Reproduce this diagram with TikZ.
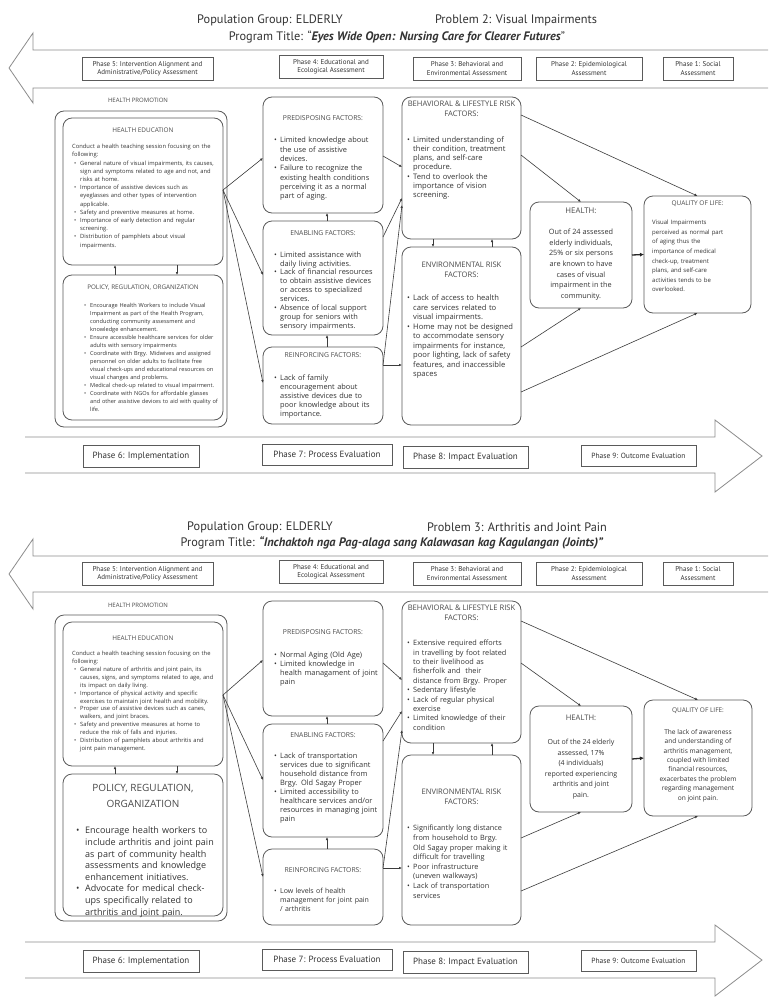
\documentclass[tikz,border=0pt]{standalone}
\usepackage{fontspec}
\setmainfont{Open Sans}
\newfontfamily\PhaseFont{PT Sans}
\usetikzlibrary{positioning,arrows.meta}

\definecolor{LineGray}{HTML}{3C3C3C}
\definecolor{BoxGray}{HTML}{5A5A5A}
\definecolor{ArrowGray}{HTML}{8C8C8C}
\definecolor{TextGray}{HTML}{333333}
\definecolor{HeadGray}{HTML}{4A4A4A}

% bullet item: bullet, then a top-aligned block of explicitly broken lines
\newcommand{\Bul}[2][8pt]{\par\noindent\makebox[#1][l]{\hspace{2pt}\textbullet}%
  \parbox[t]{\dimexpr\hsize-#1\relax}{\raggedright #2\par\xdef\BulDepth{\the\prevdepth}}%
  \par\prevdepth=\BulDepth\relax}

\begin{document}
\begin{tikzpicture}[x=1pt,y=-1pt]
  \tikzset{BoxStyle/.style = {
    shape         = rectangle,
    rounded corners = 9pt,
    draw          = BoxGray,
    line width    = 0.8pt,
    anchor        = north west,
    inner sep     = 0pt,
    outer sep     = 0pt
    }
  }
  \tikzset{PhaseStyle/.style = {
    shape         = rectangle,
    draw          = BoxGray,
    line width    = 0.7pt,
    fill          = white,
    text          = TextGray,
    align         = center,
    inner sep     = 1pt,
    font          = \PhaseFont\fontsize{7}{8.4}\selectfont
    }
  }
  \tikzset{EvalStyle/.style = {
    PhaseStyle,
    font          = \PhaseFont\fontsize{9}{10}\selectfont
    }
  }
  \tikzset{TitleStyle/.style = {
    text          = black!80,
    inner sep     = 0pt,
    font          = \PhaseFont\fontsize{12.3}{14}\selectfont
    }
  }
  \tikzset{HeadStyle/.style = {
    anchor        = north,
    align         = center,
    inner sep     = 0pt,
    text          = HeadGray
    }
  }
  \tikzset{ListStyle/.style = {
    anchor        = north west,
    align         = left,
    inner sep     = 0pt,
    text          = TextGray,
    text width    = #1
    },
    ListStyle/.default = 110pt
  }
  \tikzset{EdgeStyle/.style = {
    draw          = LineGray,
    line width    = 0.6pt,
    -{Latex[length=3pt,width=2.6pt]}
    }
  }
  \tikzset{ThickEdge/.style = {
    draw          = black!85,
    line width    = 1.3pt,
    -{Latex[length=4pt,width=4pt]}
    }
  }
  \tikzset{BigArrow/.style = {
    draw          = ArrowGray,
    line width    = 0.8pt,
    line join     = miter
    }
  }

  \fill[white] (0,0) rectangle (768,1006);
  \useasboundingbox (0,0) rectangle (768,1006);

  % ================= Problem 2 =================
  \node[TitleStyle] (PopA) at (270,20) {Population Group: ELDERLY};
  \node[TitleStyle] (ProbA) at (516,20) {Problem 2: Visual Impairments};
  \node[TitleStyle] (ProgA) at (397,37) {Program Title: “\textbf{\textit{Eyes Wide Open: Nursing Care for Clearer Futures}}”};

  \draw[BigArrow] (768,50) -- (33,50) -- (33,33) -- (9,68) -- (33,103) -- (33,88) -- (768,88);
  \draw[BigArrow] (25,437) -- (715,437) -- (715,420) -- (762,456) -- (715,492) -- (715,473) -- (25,473);

  \node[PhaseStyle, minimum width=131pt, minimum height=23pt] (P5a) at (147.5,68.5) {Phase 5: Intervention Alignment and\\Administrative/Policy Assessment};
  \node[PhaseStyle, minimum width=104pt, minimum height=23pt] (P4a) at (331,66.5) {Phase 4: Educational and\\Ecological Assessment};
  \node[PhaseStyle, minimum width=108pt, minimum height=23pt] (P3a) at (467,68.5) {Phase 3: Behavioral and\\Environmental Assessment};
  \node[PhaseStyle, minimum width=106pt, minimum height=23pt] (P2a) at (589,68.5) {Phase 2: Epidemiological\\Assessment};
  \node[PhaseStyle, minimum width=70pt, minimum height=23pt] (P1a) at (698,68.5) {Phase 1: Social\\Assessment};

  \node[EvalStyle, minimum width=116pt, minimum height=22pt] (P6a) at (141,456) {Phase 6: Implementation};
  \node[EvalStyle, minimum width=130pt, minimum height=21pt] (P7a) at (327,454.5) {Phase 7: Process Evaluation};
  \node[EvalStyle, minimum width=125pt, minimum height=22pt] (P8a) at (465.5,457) {Phase 8: Impact Evaluation};
  \node[EvalStyle, minimum width=115pt, minimum height=21pt, font=\PhaseFont\fontsize{7.5}{8}\selectfont] (P9a) at (638.5,455.5) {Phase 9: Outcome Evaluation};

  % boxes
  \node[HeadStyle, font=\fontsize{6}{7}\selectfont] (HPlabA) at (138,98) {HEALTH PROMOTION};
  \node[BoxStyle, minimum width=172pt, minimum height=316pt] (HPa) at (55,111) {};
  \node[BoxStyle, minimum width=160pt, minimum height=147pt] (HEa) at (63,118) {};
  \node[BoxStyle, minimum width=160pt, minimum height=145pt] (PolA) at (63,275) {};
  \node[BoxStyle, minimum width=120pt, minimum height=116pt] (PredA) at (263,97) {};
  \node[BoxStyle, minimum width=120pt, minimum height=114pt] (EnabA) at (263,221) {};
  \node[BoxStyle, minimum width=120pt, minimum height=77pt] (ReinA) at (263,347) {};
  \node[BoxStyle, minimum width=119pt, minimum height=142pt] (BehA) at (402,97) {};
  \node[BoxStyle, minimum width=119pt, minimum height=178pt] (EnvA) at (402,247) {};
  \node[BoxStyle, minimum width=102pt, minimum height=106pt] (HealthA) at (530,202) {};
  \node[BoxStyle, minimum width=107pt, minimum height=117pt] (QolA) at (644,196) {};

  % texts
  \node[HeadStyle, font=\fontsize{6.4}{7}\selectfont, below=10pt of HEa.north] (HEaHead) {HEALTH EDUCATION};
  \node[ListStyle=150pt, font=\fontsize{5.8}{8.2}\selectfont, below right=26pt and 9pt of HEa.north west] (HEaList) {%
    Conduct a health teaching session focusing on the\newline following:
    \Bul{General nature of visual impairments, its causes,\\ sign and symptoms related to age and not, and\\ risks at home.}
    \Bul{Importance of assistive devices such as\\ eyeglasses and other types of intervention\\ applicable.}
    \Bul{Safety and preventive measures at home.}
    \Bul{Importance of early detection and regular\\ screening.}
    \Bul{Distribution of pamphlets about visual\\ impairments.}};

  \node[HeadStyle, font=\fontsize{6.3}{7}\selectfont, below=10pt of PolA.north] (PolAHead) {POLICY, REGULATION, ORGANIZATION};
  \node[ListStyle=140pt, font=\fontsize{5.6}{8}\selectfont, below right=24pt and 19pt of PolA.north west] (PolAList) {%
    \Bul{Encourage Health Workers to include Visual\\ Impairment as part of the Health Program,\\ conducting community assessment and\\ knowledge enhancement.}
    \Bul{Ensure accessible healthcare services for older\\ adults with sensory impairments}
    \Bul{Coordinate with Brgy. Midwives and assigned\\ personnel on older adults to facilitate free\\ visual check-ups and educational resources on\\ visual changes and problems.}
    \Bul{Medical check-up related to visual impairment.}
    \Bul{Coordinate with NGOs for affordable glasses\\ and other assistive devices to aid with quality of\\ life.}};

  \node[HeadStyle, font=\fontsize{6.8}{8}\selectfont, below=18pt of PredA.north] (PredAHead) {PREDISPOSING FACTORS:};
  \node[ListStyle=112pt, font=\fontsize{7.4}{9.4}\selectfont, below right=36pt and 9pt of PredA.north west] (PredAList) {%
    \Bul{Limited knowledge about\\ the use of assistive\\ devices.}
    \Bul{Failure to recognize the\\ existing health conditions\\ perceiving it as a normal\\ part of aging.}};

  \node[HeadStyle, font=\fontsize{6.8}{8}\selectfont, below=9pt of EnabA.north] (EnabAHead) {ENABLING FACTORS:};
  \node[ListStyle=112pt, font=\fontsize{7.4}{8.9}\selectfont, below right=27pt and 9pt of EnabA.north west] (EnabAList) {%
    \Bul{Limited assistance with\\ daily living activities.}
    \Bul{Lack of financial resources\\ to obtain assistive devices\\ or access to specialized\\ services.}
    \Bul{Absence of local support\\ group for seniors with\\ sensory impairments.}};

  \node[HeadStyle, font=\fontsize{6.8}{8}\selectfont, below=5pt of ReinA.north] (ReinAHead) {REINFORCING FACTORS:};
  \node[ListStyle=112pt, font=\fontsize{7.4}{9}\selectfont, below right=24pt and 9pt of ReinA.north west] (ReinAList) {%
    \Bul{Lack of family\\ encouragement about\\ assistive devices due to\\ poor knowledge about its\\ importance.}};

  \node[HeadStyle, font=\fontsize{7.6}{9.6}\selectfont, below=4pt of BehA.north] (BehAHead) {BEHAVIORAL \& LIFESTYLE RISK\\FACTORS:};
  \node[ListStyle=116pt, font=\fontsize{7.6}{9.2}\selectfont, below right=36pt and 3pt of BehA.north west] (BehAList) {%
    \Bul{Limited understanding of\\ their condition, treatment\\ plans, and self-care\\ procedure.}
    \Bul{Tend to overlook the\\ importance of vision\\ screening.}};

  \node[HeadStyle, font=\fontsize{7.6}{9.6}\selectfont, below=15pt of EnvA.north] (EnvAHead) {ENVIRONMENTAL RISK\\FACTORS:};
  \node[ListStyle=116pt, font=\fontsize{7.6}{9.5}\selectfont, below right=44pt and 3pt of EnvA.north west] (EnvAList) {%
    \Bul{Lack of access to health\\ care services related to\\ visual impairments.}
    \Bul{Home may not be designed\\ to accommodate sensory\\ impairments for instance,\\ poor lighting, lack of safety\\ features, and inaccessible\\ spaces}};

  \node[HeadStyle, font=\fontsize{7.8}{9}\selectfont, below=6pt of HealthA.north] (HealthAHead) {HEALTH:};
  \node[HeadStyle, text=TextGray, font=\fontsize{7.3}{10.6}\selectfont, below=27pt of HealthA.north] (HealthAText) {Out of 24 assessed\\elderly individuals,\\25\% or six persons\\are known to have\\cases of visual\\impairment in the\\community.};

  \node[HeadStyle, font=\fontsize{6.5}{7}\selectfont, below=5pt of QolA.north] (QolAHead) {QUALITY OF LIFE:};
  \node[ListStyle=98pt, font=\fontsize{6}{9.6}\selectfont, below right=24pt and 8pt of QolA.north west] (QolAText) {%
    Visual Impairments\newline perceived as normal part\newline of aging thus the\newline importance of medical\newline check-up, treatment\newline plans, and self-care\newline activities tends to be\newline overlooked.};

  % connectors
  \draw[EdgeStyle] ([xshift=52pt]PolA.north west) -- ([xshift=52pt]HEa.south west);
  \draw[EdgeStyle] ([xshift=114pt]HEa.south west) -- ([xshift=114pt]PolA.north west);
  \draw[EdgeStyle] ([yshift=-72pt]HEa.north east) -- ([yshift=-61pt]PredA.north west);
  \draw[EdgeStyle] ([yshift=-72pt]HEa.north east) -- ([yshift=-54pt]EnabA.north west);
  \draw[EdgeStyle] ([yshift=-72pt]HEa.north east) -- ([yshift=-36pt]ReinA.north west);
  \draw[EdgeStyle] ([xshift=4pt]EnabA.north) -- ([xshift=4pt]PredA.south);
  \draw[EdgeStyle] ([xshift=4pt]ReinA.north) -- ([xshift=4pt]EnabA.south);
  \draw[EdgeStyle] ([yshift=-59pt]PredA.north east) -- ([yshift=-70pt]BehA.north west);
  \draw[EdgeStyle] ([yshift=-16pt]EnabA.north east) -- ([yshift=-101pt]BehA.north west);
  \draw[EdgeStyle] ([yshift=-18pt]ReinA.north east) -- ([yshift=-108pt]BehA.north west);
  \draw[EdgeStyle] ([yshift=-18pt]ReinA.north east) -- ([yshift=-118pt]EnvA.north west);
  \draw[EdgeStyle] ([xshift=31pt]BehA.south west) -- ([xshift=31pt]EnvA.north west);
  \draw[EdgeStyle] ([xshift=90pt]EnvA.north west) -- ([xshift=90pt]BehA.south west);
  \draw[EdgeStyle] ([yshift=-18pt]BehA.north east) -- (QolA.north);
  \draw[EdgeStyle] ([yshift=-58pt]BehA.north east) -- (HealthA.north);
  \draw[EdgeStyle] ([yshift=-100pt]EnvA.north east) -- (HealthA.south);
  \draw[EdgeStyle] ([yshift=-145pt]EnvA.north east) -- (QolA.south);
  \draw[ThickEdge] (HealthA.east) -- (QolA.west);

  % ================= Problem 3 =================
  \node[TitleStyle] (PopB) at (260,527) {Population Group: ELDERLY};
  \node[TitleStyle] (ProbB) at (517,527) {Problem 3: Arthritis and Joint Pain};
  \node[TitleStyle] (ProgB) at (392,543) {Program Title: \textbf{\textit{“Inchaktoh nga Pag-alaga sang Kalawasan kag Kagulangan (Joints)”}}};

  \draw[BigArrow] (768,556) -- (33,556) -- (33,539) -- (9,574) -- (33,609) -- (33,592) -- (768,592);
  \draw[BigArrow] (25,942) -- (715,942) -- (715,925) -- (762,960) -- (715,996) -- (715,978) -- (25,978);

  \node[PhaseStyle, minimum width=131pt, minimum height=23pt] (P5b) at (147.5,573.5) {Phase 5: Intervention Alignment and\\Administrative/Policy Assessment};
  \node[PhaseStyle, minimum width=104pt, minimum height=23pt] (P4b) at (331,571.5) {Phase 4: Educational and\\Ecological Assessment};
  \node[PhaseStyle, minimum width=108pt, minimum height=23pt] (P3b) at (467,573.5) {Phase 3: Behavioral and\\Environmental Assessment};
  \node[PhaseStyle, minimum width=106pt, minimum height=23pt] (P2b) at (589,573.5) {Phase 2: Epidemiological\\Assessment};
  \node[PhaseStyle, minimum width=70pt, minimum height=23pt] (P1b) at (698,573.5) {Phase 1: Social\\Assessment};

  \node[EvalStyle, minimum width=116pt, minimum height=22pt] (P6b) at (141,961) {Phase 6: Implementation};
  \node[EvalStyle, minimum width=130pt, minimum height=21pt] (P7b) at (327,959.5) {Phase 7: Process Evaluation};
  \node[EvalStyle, minimum width=125pt, minimum height=22pt] (P8b) at (465.5,962) {Phase 8: Impact Evaluation};
  \node[EvalStyle, minimum width=115pt, minimum height=21pt, font=\PhaseFont\fontsize{7.5}{8}\selectfont] (P9b) at (638.5,960.5) {Phase 9: Outcome Evaluation};

  % boxes
  \node[HeadStyle, font=\fontsize{6}{7}\selectfont] (HPlabB) at (138,603) {HEALTH PROMOTION};
  \node[BoxStyle, minimum width=172pt, minimum height=306pt] (HPb) at (55,615) {};
  \node[BoxStyle, minimum width=160pt, minimum height=144pt] (HEb) at (63,622) {};
  \node[BoxStyle, minimum width=160pt, minimum height=142pt] (PolB) at (63,774) {};
  \node[BoxStyle, minimum width=120pt, minimum height=115pt] (PredB) at (263,601) {};
  \node[BoxStyle, minimum width=120pt, minimum height=113pt] (EnabB) at (263,724) {};
  \node[BoxStyle, minimum width=120pt, minimum height=76pt] (ReinB) at (263,849) {};
  \node[BoxStyle, minimum width=119pt, minimum height=142pt] (BehB) at (402,601) {};
  \node[BoxStyle, minimum width=119pt, minimum height=170pt] (EnvB) at (402,755) {};
  \node[BoxStyle, minimum width=102pt, minimum height=106pt] (HealthB) at (530,706) {};
  \node[BoxStyle, minimum width=108pt, minimum height=116pt] (QolB) at (644,700) {};

  % texts
  \node[HeadStyle, font=\fontsize{6.4}{7}\selectfont, below=14pt of HEb.north] (HEbHead) {HEALTH EDUCATION};
  \node[ListStyle=152pt, font=\fontsize{5.8}{7.9}\selectfont, below right=29pt and 9pt of HEb.north west] (HEbList) {%
    Conduct a health teaching session focusing on the\newline following:
    \Bul{General nature of arthritis and joint pain, its\\ causes, signs, and symptoms related to age, and\\ its impact on daily living.}
    \Bul{Importance of physical activity and specific\\ exercises to maintain joint health and mobility.}
    \Bul{Proper use of assistive devices such as canes,\\ walkers, and joint braces.}
    \Bul{Safety and preventive measures at home to\\ reduce the risk of falls and injuries.}
    \Bul{Distribution of pamphlets about arthritis and\\ joint pain management.}};

  \node[HeadStyle, font=\fontsize{10}{16}\selectfont, below=10pt of PolB.north] (PolBHead) {POLICY, REGULATION,\\ORGANIZATION};
  \node[ListStyle=150pt, font=\fontsize{9}{11.6}\selectfont, below right=48pt and 11pt of PolB.north west] (PolBList) {%
    \Bul[11pt]{Encourage health workers to\\ include arthritis and joint pain\\ as part of community health\\ assessments and knowledge\\ enhancement initiatives.}
    \Bul[11pt]{Advocate for medical check-\\ ups specifically related to\\ arthritis and joint pain.}};

  \node[HeadStyle, font=\fontsize{6.8}{8}\selectfont, below=28pt of PredB.north] (PredBHead) {PREDISPOSING FACTORS:};
  \node[ListStyle=112pt, font=\fontsize{7.4}{9}\selectfont, below right=47pt and 9pt of PredB.north west] (PredBList) {%
    \Bul{Normal Aging (Old Age)}
    \Bul{Limited knowledge in\\ health managament of joint\\ pain}};

  \node[HeadStyle, font=\fontsize{6.8}{8}\selectfont, below=8pt of EnabB.north] (EnabBHead) {ENABLING FACTORS:};
  \node[ListStyle=112pt, font=\fontsize{7.4}{9}\selectfont, below right=25pt and 9pt of EnabB.north west] (EnabBList) {%
    \Bul{Lack of transportation\\ services due to significant\\ household distance from\\ Brgy. Old Sagay Proper}
    \Bul{Limited accessibility to\\ healthcare services and/or\\ resources in managing joint\\ pain}};

  \node[HeadStyle, font=\fontsize{6.8}{8}\selectfont, below=18pt of ReinB.north] (ReinBHead) {REINFORCING FACTORS:};
  \node[ListStyle=112pt, font=\fontsize{7}{9}\selectfont, below right=35pt and 9pt of ReinB.north west] (ReinBList) {%
    \Bul{Low levels of health\\ management for joint pain\\ / arthritis}};

  \node[HeadStyle, font=\fontsize{7.6}{9.6}\selectfont, below=4pt of BehB.north] (BehBHead) {BEHAVIORAL \& LIFESTYLE RISK\\FACTORS:};
  \node[ListStyle=116pt, font=\fontsize{7.3}{9.4}\selectfont, below right=35pt and 3pt of BehB.north west] (BehBList) {%
    \Bul{Extensive required efforts\\ in travelling by foot related\\ to their livelihood as\\ fisherfolk and\ \ their\\ distance from Brgy. Proper}
    \Bul{Sedentary lifestyle}
    \Bul{Lack of regular physical\\ exercise}
    \Bul{Limited knowledge of their\\ condition}};

  \node[HeadStyle, font=\fontsize{7.6}{9.6}\selectfont, below=34pt of EnvB.north] (EnvBHead) {ENVIRONMENTAL RISK\\FACTORS:};
  \node[ListStyle=116pt, font=\fontsize{7.3}{9.6}\selectfont, below right=66pt and 3pt of EnvB.north west] (EnvBList) {%
    \Bul{Significantly long distance\\ from household to Brgy.\\ Old Sagay proper making it\\ difficult for travelling}
    \Bul{Poor infrastructure\\ (uneven walkways)}
    \Bul{Lack of transportation\\ services}};

  \node[HeadStyle, font=\fontsize{7.6}{9}\selectfont, below=9pt of HealthB.north] (HealthBHead) {HEALTH:};
  \node[HeadStyle, text=TextGray, font=\fontsize{7}{10.5}\selectfont, below=33pt of HealthB.north] (HealthBText) {Out of the 24 elderly\\assessed, 17\%\\(4 individuals)\\reported experiencing\\arthritis and joint\\pain.};

  \node[HeadStyle, font=\fontsize{6.5}{7}\selectfont, below=8pt of QolB.north] (QolBHead) {QUALITY OF LIFE:};
  \node[HeadStyle, text=TextGray, font=\fontsize{6.6}{9.4}\selectfont, below=29pt of QolB.north] (QolBText) {The lack of awareness\\and understanding of\\arthritis management,\\coupled with limited\\financial resources,\\exacerbates the problem\\regarding management\\on joint pain.};

  % connectors
  \draw[EdgeStyle] ([xshift=52pt]PolB.north west) -- ([xshift=52pt]HEb.south west);
  \draw[EdgeStyle] ([xshift=114pt]HEb.south west) -- ([xshift=114pt]PolB.north west);
  \draw[EdgeStyle] ([yshift=-73pt]HEb.north east) -- ([yshift=-59pt]PredB.north west);
  \draw[EdgeStyle] ([yshift=-73pt]HEb.north east) -- ([yshift=-56pt]EnabB.north west);
  \draw[EdgeStyle] ([yshift=-73pt]HEb.north east) -- ([yshift=-28pt]ReinB.north west);
  \draw[EdgeStyle] ([xshift=4pt]EnabB.north) -- ([xshift=4pt]PredB.south);
  \draw[EdgeStyle] ([xshift=4pt]ReinB.north) -- ([xshift=4pt]EnabB.south);
  \draw[EdgeStyle] ([yshift=-62pt]PredB.north east) -- ([yshift=-79pt]BehB.north west);
  \draw[EdgeStyle] ([yshift=-17pt]EnabB.north east) -- ([yshift=-110pt]BehB.north west);
  \draw[EdgeStyle] ([yshift=-19pt]ReinB.north east) -- ([yshift=-129pt]BehB.north west);
  \draw[EdgeStyle] ([yshift=-19pt]ReinB.north east) -- ([yshift=-113pt]EnvB.north west);
  \draw[EdgeStyle] ([xshift=31pt]BehB.south west) -- ([xshift=31pt]EnvB.north west);
  \draw[EdgeStyle] ([xshift=90pt]EnvB.north west) -- ([xshift=90pt]BehB.south west);
  \draw[EdgeStyle] ([yshift=-20pt]BehB.north east) -- (QolB.north);
  \draw[EdgeStyle] ([yshift=-62pt]BehB.north east) -- (HealthB.north);
  \draw[EdgeStyle] ([yshift=-83pt]EnvB.north east) -- (HealthB.south);
  \draw[EdgeStyle] ([yshift=-136pt]EnvB.north east) -- (QolB.south);
  \draw[ThickEdge] (HealthB.east) -- (QolB.west);

\end{tikzpicture}
\end{document}
